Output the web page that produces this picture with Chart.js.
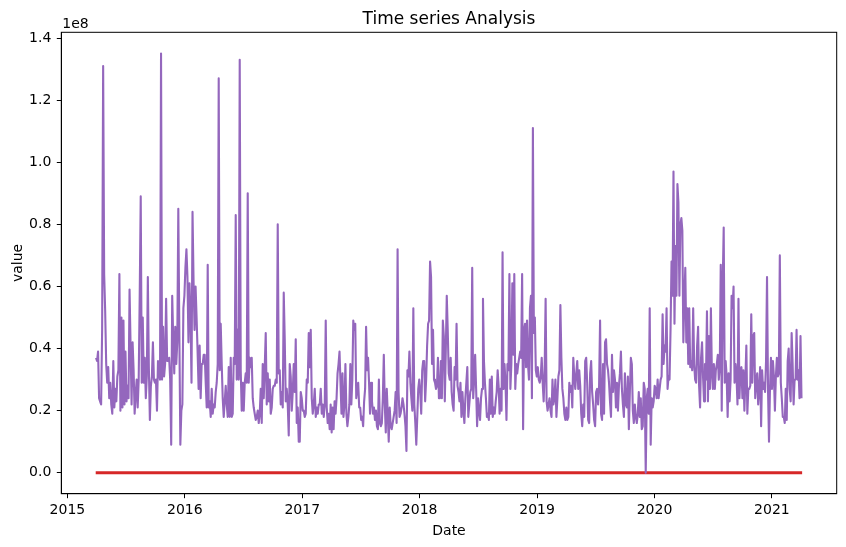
<!DOCTYPE html>
<html>
<head>
<meta charset="utf-8">
<script src="https://cdn.jsdelivr.net/npm/chart.js@4/dist/chart.umd.min.js"></script>
<style>
  html,body{margin:0;padding:0;background:#fff;}
  canvas{display:block;}
</style>
</head>
<body>
<canvas id="ts" width="846" height="547"></canvas>
<script>
const blockStarts = ['2015-03-31','2016-03-03','2017-03-12','2018-03-05','2019-02-24','2020-02-17'];
const lastDate = '2021-04-03';

const block2015 = [37,36,39,24,23,22,46,131,64,52,35,29,34,24,29,22,19,36,21,27,23,31,
  33,64,20,50,21,49,22,39,23,28,24,59,41,22,42,33,19,25,30,21,30,
  57,89,29,50,29,37,24,31,63,34,17,28,31,42,30,29,30,20,36,32,30,
  135,30,47,31,35,56,36,36,37,30,9,57,43,32,47,35,42,85,46,9,
  20,22,53,57,66,72,63,42,61,51,29,84,62,46,60,50,39,27,41,24,35,35,38];
const block2016 = [38,29,21,67,21,23,18,27,19,22,21,26,29,35,127,33,48,35,24,18,
  23,28,22,18,34,18,37,18,19,37,35,83,30,46,30,133,33,20,29,20,
  29,32,29,90,29,37,34,37,24,21,19,17,18,20,16,19,27,16,35,24,
  34,45,22,32,23,30,19,21,27,28,28,30,29,80,32,33,22,26,21,58,
  43,23,27,22,12,35,31,20,26,35,26,43,16,21,10,10,26,24,20,20,
  18,19,30,29,45,34,46,24,19,22,27,18,21,19,22,22,27,19,22,18];
const block2017 = [22,49,21,16,19,14,22,13,21,14,23,19,24,32,35,39,29,19,32,18,
  22,35,19,15,18,22,35,22,30,49,46,48,24,27,29,21,21,17,18,15,
  23,27,47,33,37,29,19,29,23,19,21,17,20,15,14,30,16,15,16,24,
  38,22,13,27,19,10,21,15,14,16,18,20,26,16,72,26,18,19,21,24,
  22,19,15,7,33,31,39,29,24,20,53,22,16,9,18,27,30,26,19,33,
  36,36,23,30,41,48,49,68,63,35,46,30,29,27,28,37,24];
const block2018 = [24,36,24,49,44,23,39,57,46,32,30,37,26,22,20,34,30,48,28,26,
  23,29,18,26,20,16,24,29,34,18,22,26,27,66,24,30,38,27,15,24,
  20,17,24,27,56,36,29,24,18,19,17,30,19,31,18,21,19,23,26,33,
  28,19,27,20,71,27,35,29,17,35,33,64,27,35,61,38,64,27,35,32,
  35,37,39,37,64,14,46,48,34,49,35,30,53,57,24,111,45,50,33,31,
  34,30,29,31,37,29,23,33,56,23,20,22,24,20,18,30,22];
const block2019 = [24,30,18,24,31,33,54,37,27,24,19,17,21,17,18,29,26,28,21,37,
  31,27,32,36,27,33,28,19,15,22,18,36,37,29,17,16,32,36,26,22,
  17,15,26,27,22,28,49,19,17,35,19,42,43,35,33,29,23,18,38,26,
  33,30,21,29,20,28,32,39,27,22,18,32,22,21,31,14,26,37,35,20,
  16,22,18,16,19,26,18,24,14,15,29,27,0,24,27,19,53,9,24,21,
  23,28,27,24,30,24,27,30,31,51,35,41,39,53,27,31];
const block2020 = [30,46,68,57,97,48,73,57,93,87,57,80,82,78,42,56,66,42,53,35,
  53,34,36,33,53,35,30,29,41,47,28,21,37,42,31,23,35,30,52,23,
  44,27,53,32,27,35,27,33,35,38,30,34,67,20,61,79,29,36,31,18,
  32,23,30,57,53,60,29,35,31,22,56,24,33,34,24,33,20,30,41,19,
  27,27,28,51,29,44,45,24,29,32,22,27,34,15,33,27,29,26,36,63,
  27,10,27,37,27,36,31,20,31,37,31,32,70,29,24,18,18,16,27,17,
  36,40,27,23,45,35,22,30,30,46,30,33,24,44,24];
const blocks = [block2015, block2016, block2017, block2018, block2019, block2020];

// the flat red line
const baseDates = ['2015-03-30','2021-04-05'];
const baseValues = [0, 0];

const yearTicks = [2015,2016,2017,2018,2019,2020,2021];
const valueTicks = [0, 0.2e8, 0.4e8, 0.6e8, 0.8e8, 1.0e8, 1.2e8, 1.4e8];

function toYear(s){
  const [y,m,d] = s.split('-').map(Number);
  const a = Date.UTC(y,0,1), b = Date.UTC(y+1,0,1);
  return y + (Date.UTC(y,m-1,d) - a)/(b - a);
}

// spread each block's readings evenly between its start and the next block
const series = [];
blocks.forEach((vals,i)=>{
  const last = i === blocks.length-1;
  const x0 = toYear(blockStarts[i]);
  const x1 = last ? toYear(lastDate) : toYear(blockStarts[i+1]);
  const step = (x1-x0)/(last ? vals.length-1 : vals.length);
  vals.forEach((v,k)=> series.push({x: x0 + k*step, y: v*1e6}));
});
const base = baseDates.map((d,i)=>({x: toYear(d), y: baseValues[i]}));

const FONT = 'DejaVu Sans';
Chart.defaults.font.family = FONT;
Chart.defaults.font.size = 14;
Chart.defaults.color = '#000';

const frame = {
  id: 'frame',
  afterDraw(chart){
    const {ctx, chartArea:a} = chart;
    ctx.save();
    ctx.strokeStyle = '#000'; ctx.lineWidth = 1;
    ctx.strokeRect(a.left, a.top, a.right-a.left, a.bottom-a.top);
    ctx.fillStyle = '#000';
    const cx = (a.left+a.right)/2, cy = (a.top+a.bottom)/2;
    ctx.textAlign = 'center'; ctx.textBaseline = 'alphabetic';
    ctx.font = '17px "'+FONT+'"';
    ctx.fillText('Time series Analysis', cx, 24);
    ctx.font = '14px "'+FONT+'"';
    ctx.fillText('Date', cx, 535);
    ctx.textAlign = 'left';
    ctx.fillText('1e8', a.left+1, 27.5);
    ctx.translate(22, cy); ctx.rotate(-Math.PI/2);
    ctx.textAlign = 'center';
    ctx.fillText('value', 0, 0);
    ctx.restore();
  }
};

new Chart(document.getElementById('ts'), {
  type:'line',
  data:{datasets:[
    {label:'value', data:series, borderColor:'#9467bd', borderWidth:2.1, pointRadius:0, tension:0, borderJoinStyle:'round', order:1},
    {label:'base', data:base, borderColor:'#d62728', borderWidth:2.8, pointRadius:0, tension:0, order:2}
  ]},
  options:{
    responsive:false, animation:false, devicePixelRatio:1,
    layout:{padding:{top:32.3, right:9.3, left:0, bottom:0}},
    plugins:{legend:{display:false}, tooltip:{enabled:false}},
    scales:{
      x:{type:'linear', min:2014.948, max:2021.552,
        afterBuildTicks: s => { s.ticks = yearTicks.map(v=>({value:v})); },
        afterFit: s => { s.height = 53.3; },
        ticks:{callback: v => String(v), padding:4, maxRotation:0, autoSkip:false},
        grid:{drawOnChartArea:false, drawTicks:true, tickLength:4.5, tickColor:'#000'},
        border:{display:true, color:'#000', width:1}},
      y:{type:'linear', min:-0.0675e8, max:1.4185e8,
        afterBuildTicks: s => { s.ticks = valueTicks.map(v=>({value:v})); },
        afterFit: s => { s.width = 61.3; },
        ticks:{callback: v => (v/1e8).toFixed(1), padding:5.5},
        grid:{drawOnChartArea:false, drawTicks:true, tickLength:4.5, tickColor:'#000'},
        border:{display:true, color:'#000', width:1}}
    }
  },
  plugins:[frame]
});
</script>
</body>
</html>
